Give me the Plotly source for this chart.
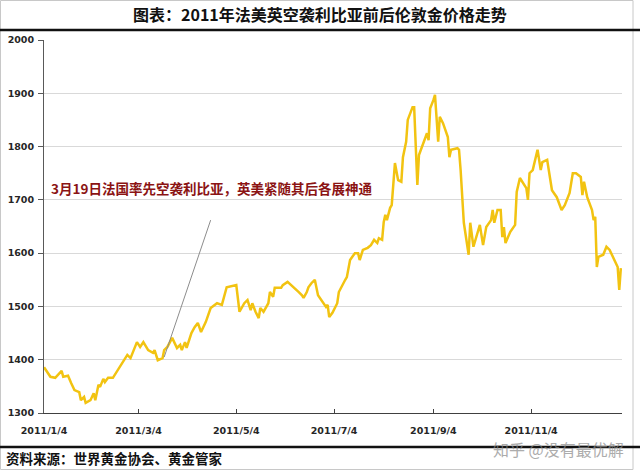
import plotly.graph_objects as go

# ---------------- data ----------------
dates = [
    "2011-01-04", "2011-01-08", "2011-01-11", "2011-01-15", "2011-01-16", "2011-01-19",
    "2011-01-21", "2011-01-23", "2011-01-26", "2011-01-27", "2011-01-29", "2011-01-30",
    "2011-02-02", "2011-02-04", "2011-02-05", "2011-02-07", "2011-02-08", "2011-02-10",
    "2011-02-11", "2011-02-13", "2011-02-16", "2011-02-19", "2011-02-22", "2011-02-25",
    "2011-02-27", "2011-03-03", "2011-03-05", "2011-03-07", "2011-03-10", "2011-03-13",
    "2011-03-14", "2011-03-16", "2011-03-19", "2011-03-20", "2011-03-22", "2011-03-25",
    "2011-03-28", "2011-03-30", "2011-03-31", "2011-04-02", "2011-04-03", "2011-04-06",
    "2011-04-08", "2011-04-10", "2011-04-12", "2011-04-15", "2011-04-18", "2011-04-22",
    "2011-04-25", "2011-04-28", "2011-05-04", "2011-05-06", "2011-05-09", "2011-05-11",
    "2011-05-13", "2011-05-14", "2011-05-16", "2011-05-18", "2011-05-19", "2011-05-21",
    "2011-05-24", "2011-05-25", "2011-05-27", "2011-05-28", "2011-06-01", "2011-06-02",
    "2011-06-05", "2011-06-09", "2011-06-12", "2011-06-14", "2011-06-15", "2011-06-17",
    "2011-06-18", "2011-06-20", "2011-06-22", "2011-06-24", "2011-06-27", "2011-06-29",
    "2011-06-30", "2011-07-01", "2011-07-03", "2011-07-06", "2011-07-07", "2011-07-09",
    "2011-07-11", "2011-07-12", "2011-07-14", "2011-07-17", "2011-07-19", "2011-07-20",
    "2011-07-22", "2011-07-25", "2011-07-27", "2011-07-29", "2011-07-31", "2011-08-01",
    "2011-08-03", "2011-08-04", "2011-08-05", "2011-08-06", "2011-08-08", "2011-08-09",
    "2011-08-10", "2011-08-11", "2011-08-13", "2011-08-15", "2011-08-16", "2011-08-18",
    "2011-08-19", "2011-08-22", "2011-08-23", "2011-08-25", "2011-08-26", "2011-08-29",
    "2011-08-31", "2011-09-01", "2011-09-02", "2011-09-04", "2011-09-05", "2011-09-07",
    "2011-09-08", "2011-09-10", "2011-09-12", "2011-09-13", "2011-09-14", "2011-09-15",
    "2011-09-19", "2011-09-20", "2011-09-21", "2011-09-23", "2011-09-26", "2011-09-27",
    "2011-09-29", "2011-10-03", "2011-10-05", "2011-10-07", "2011-10-10", "2011-10-11",
    "2011-10-12", "2011-10-14", "2011-10-16", "2011-10-17", "2011-10-18", "2011-10-19",
    "2011-10-22", "2011-10-25", "2011-10-26", "2011-10-28", "2011-11-01", "2011-11-02",
    "2011-11-03", "2011-11-05", "2011-11-08", "2011-11-10", "2011-11-11", "2011-11-14",
    "2011-11-17", "2011-11-20", "2011-11-23", "2011-11-25", "2011-11-28", "2011-11-30",
    "2011-12-02", "2011-12-05", "2011-12-06", "2011-12-07", "2011-12-09", "2011-12-12",
    "2011-12-13", "2011-12-14", "2011-12-15", "2011-12-16", "2011-12-19", "2011-12-21",
    "2011-12-23", "2011-12-25", "2011-12-28", "2011-12-29", "2011-12-30",
]
prices = [
    1386, 1368, 1366, 1379, 1368, 1370,
    1356, 1343, 1339, 1324, 1330, 1319,
    1324, 1337, 1324, 1353, 1349, 1364,
    1358, 1366, 1366, 1381, 1394, 1409,
    1403, 1433, 1424, 1433, 1418, 1413,
    1418, 1399, 1403, 1418, 1424, 1441,
    1422, 1428, 1418, 1433, 1422, 1450,
    1461, 1469, 1452, 1471, 1497, 1506,
    1503, 1536, 1540, 1490, 1506, 1512,
    1493, 1506, 1490, 1478, 1497, 1490,
    1506, 1527, 1518, 1535, 1535, 1540,
    1546, 1536, 1527, 1521, 1516, 1527,
    1536, 1544, 1550, 1521, 1508, 1499,
    1503, 1480, 1488, 1506, 1527, 1540,
    1550, 1555, 1587, 1600, 1600, 1587,
    1606, 1610, 1615, 1625, 1619, 1628,
    1625, 1658, 1672, 1662, 1685, 1690,
    1732, 1769, 1737, 1734, 1780, 1809,
    1850, 1874, 1874, 1728, 1784, 1809,
    1825, 1812, 1872, 1887, 1897, 1809,
    1856, 1844, 1827, 1818, 1780, 1794,
    1797, 1794, 1756, 1657, 1597, 1657,
    1612, 1653, 1615, 1649, 1662, 1681,
    1657, 1681, 1681, 1630, 1649, 1619,
    1640, 1653, 1715, 1741, 1722, 1700,
    1750, 1756, 1794, 1756, 1771, 1775,
    1718, 1705, 1681, 1690, 1713, 1750,
    1750, 1743, 1709, 1734, 1705, 1681,
    1662, 1668, 1574, 1593, 1597, 1612,
    1606, 1593, 1574, 1531, 1572,
]

tick_dates = ["2011-01-04", "2011-03-04", "2011-05-04", "2011-07-04", "2011-09-04", "2011-11-04"]
tick_labels = ["2011/1/4", "2011/3/4", "2011/5/4", "2011/7/4", "2011/9/4", "2011/11/4"]
y_ticks = [1300, 1400, 1500, 1600, 1700, 1800, 1900, 2000]

title_text = "图表：2011年法美英空袭利比亚前后伦敦金价格走势"
note_text = "3月19日法国率先空袭利比亚，英美紧随其后各展神通"
source_text = "资料来源：世界黄金协会、黄金管家"
watermark_text = "知乎 @没有最优解"

# annotation pointer line (data coordinates)
pointer_start = ("2011-03-20", 1405)
pointer_end = ("2011-04-18", 1662)

# ---------------- layout helpers ----------------
W, H = 640, 470
L, R, T, B = 44, 622, 40, 413


def px(X):
    return (X - L) / (R - L)


def py(Y):
    return (B - Y) / (B - T)


CJK = "Noto Sans CJK SC"
tick_font = dict(family="DejaVu Sans", size=9.5, color="#262626", weight="bold")

fig = go.Figure()
fig.add_trace(go.Scatter(
    x=dates, y=prices, mode="lines",
    line=dict(color="#F2C311", width=2.5),
    hoverinfo="skip",
))

fig.update_layout(
    width=W, height=H, autosize=False,
    margin=dict(l=L, r=W - R, t=T, b=H - B, pad=0),
    paper_bgcolor="white", plot_bgcolor="white",
    showlegend=False,
)

fig.update_xaxes(
    type="date", range=["2011-01-04", "2011-12-30 17:00"],
    tickmode="array", tickvals=tick_dates, ticktext=tick_labels,
    ticks="inside", ticklen=4, tickwidth=1, tickcolor="#404040",
    showline=True, linecolor="#404040", linewidth=1,
    showgrid=False, zeroline=False, tickfont=tick_font,
    ticklabelstandoff=9, automargin=False,
)
fig.update_yaxes(
    range=[1300, 2000], tickmode="array", tickvals=y_ticks,
    ticks="outside", ticklen=5, tickwidth=1, tickcolor="#595959",
    showline=True, linecolor="#595959", linewidth=1,
    showgrid=True, gridcolor="#d9d9d9", gridwidth=1, zeroline=False,
    tickfont=tick_font, ticklabelstandoff=2, automargin=False,
)

# pointer line
fig.add_shape(type="line", xref="x", yref="y",
              x0=pointer_start[0], y0=pointer_start[1],
              x1=pointer_end[0], y1=pointer_end[1],
              line=dict(color="#8c8c8c", width=1))

# frame / separator lines
fig.add_shape(type="rect", xref="paper", yref="paper",
              x0=px(0.5), y0=py(469.5), x1=px(633), y1=py(0.5),
              line=dict(color="#c8c8c8", width=1), layer="below")
fig.add_shape(type="line", xref="paper", yref="paper",
              x0=px(0), y0=py(30), x1=px(640), y1=py(30),
              line=dict(color="#111111", width=2.5))
fig.add_shape(type="line", xref="paper", yref="paper",
              x0=px(0), y0=py(447), x1=px(640), y1=py(447),
              line=dict(color="#111111", width=2.5))

# texts
fig.add_annotation(text=title_text, xref="paper", yref="paper",
                   x=px(320), y=py(14), xanchor="center", yanchor="middle",
                   showarrow=False,
                   font=dict(family=CJK, size=16, color="#111111", weight="bold"))
fig.add_annotation(text=note_text, xref="paper", yref="paper",
                   x=px(49), y=py(188), xanchor="left", yanchor="middle",
                   showarrow=False,
                   font=dict(family=CJK, size=13.5, color="#8B1414", weight="bold"))
fig.add_annotation(text=source_text, xref="paper", yref="paper",
                   x=px(4), y=py(458), xanchor="left", yanchor="middle",
                   showarrow=False,
                   font=dict(family=CJK, size=13.5, color="#111111", weight="bold"))
fig.add_annotation(text=watermark_text, xref="paper", yref="paper",
                   x=px(626), y=py(449), xanchor="right", yanchor="middle",
                   showarrow=False, opacity=0.7,
                   font=dict(family=CJK, size=16, color="#8a8a8a"))

fig.write_html("out.html")
